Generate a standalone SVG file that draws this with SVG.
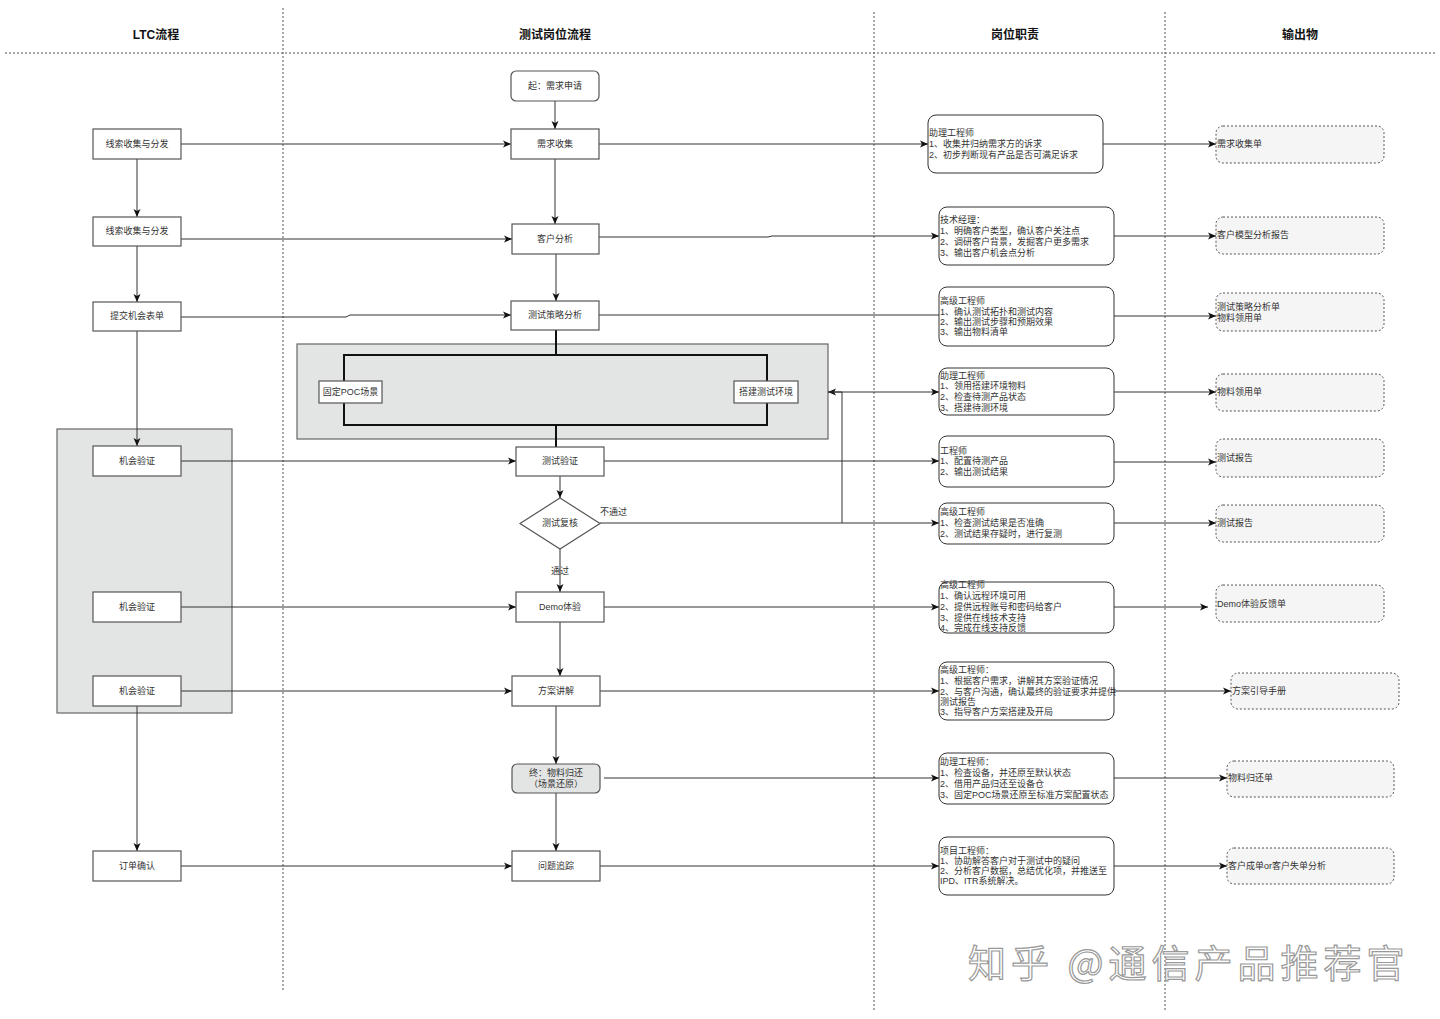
<svg xmlns="http://www.w3.org/2000/svg" width="1440" height="1019" viewBox="0 0 1440 1019">
<style>
text{font-family:"Liberation Sans","Noto Sans CJK SC",sans-serif;fill:#333;}
.hd{font-size:12px;font-weight:bold;fill:#111;text-anchor:middle;}
.nt{font-size:9px;text-anchor:middle;dominant-baseline:central;}
.rt{font-size:9px;}
.ot{font-size:9px;dominant-baseline:central;}
.box{fill:#fff;stroke:#555;stroke-width:1.2;}
.role{fill:#fff;stroke:#333;stroke-width:1;}
.out{fill:#f5f5f5;stroke:#555;stroke-width:1;stroke-dasharray:2 2;}
.grp{fill:#e3e4e4;stroke:#666;stroke-width:1.2;}
.sep{stroke:#555;stroke-width:1;stroke-dasharray:2 2;fill:none;}
.c{fill:none;stroke:#333;stroke-width:1;marker-end:url(#arr);}
.cn{fill:none;stroke:#333;stroke-width:1;}
.thick{fill:none;stroke:#111;stroke-width:2;}
</style>
<defs>
<marker id="arr" markerWidth="8" markerHeight="8" refX="8" refY="4" orient="auto" markerUnits="userSpaceOnUse">
<path d="M0,0.5 L8,4 L0,7.5 L2,4 z" fill="#111"/>
</marker>
</defs>
<rect width="1440" height="1019" fill="#fff"/>

<g id="lanes">
<line class="sep" x1="283" y1="8" x2="283" y2="990"/>
<line class="sep" x1="874" y1="12" x2="874" y2="1012"/>
<line class="sep" x1="1165" y1="12" x2="1165" y2="1012"/>
<line class="sep" x1="5" y1="53" x2="1435" y2="53"/>
<text class="hd" x="156" y="39">LTC流程</text>
<text class="hd" x="555" y="39">测试岗位流程</text>
<text class="hd" x="1015" y="39">岗位职责</text>
<text class="hd" x="1300" y="39">输出物</text>
</g>

<g id="containers">
<rect id="ltc-group" class="grp" x="57" y="429" width="175" height="284"/>
<rect id="env-group" class="grp" x="297" y="344" width="531" height="95"/>
<rect id="env-loop" class="thick" x="344" y="355" width="423" height="70"/>
</g>

<g id="connectors">
<path class="c" d="M137,159 V217"/>
<path class="c" d="M137,246 V302"/>
<path class="c" d="M137,331 V446"/>
<path class="c" d="M137,706 V851"/>
<path class="c" d="M181,144 H511"/>
<path class="c" d="M181,239 H512"/>
<path class="c" d="M181,317 H346 L350,315 H511"/>
<path class="c" d="M181,461 H516"/>
<path class="c" d="M181,607 H516"/>
<path class="c" d="M181,691 H512"/>
<path class="c" d="M181,866 H512"/>
<path class="c" d="M555,101 V129"/>
<path class="c" d="M555,159 V224"/>
<path class="c" d="M556,254 V301"/>
<path class="thick" d="M556,330 V355"/>
<path class="thick" d="M556,425 V447"/>
<path class="c" d="M560,476 V498"/>
<path class="c" d="M560,549 V592"/>
<path class="c" d="M560,622 V676"/>
<path class="c" d="M556,706 V764"/>
<path class="c" d="M556,793 V851"/>
<path class="c" d="M600,523 H939"/>
<path class="c" d="M842,523 V392 H828"/>
<path class="c" d="M828,392 H939"/>
<path class="c" d="M599,144 H928"/>
<path class="c" d="M599,237 H768 L772,236 H939"/>
<path class="c" d="M599,315 H940 L939,316"/>
<path class="c" d="M604,461 H939"/>
<path class="c" d="M604,607 H939"/>
<path class="c" d="M600,691 H939"/>
<path class="c" d="M604,778 H939"/>
<path class="c" d="M600,866 H939"/>
<path class="c" d="M1103,144 H1216"/>
<path class="c" d="M1114,236 H1216"/>
<path class="c" d="M1114,316 H1216"/>
<path class="c" d="M1114,392 H1216"/>
<path class="c" d="M1114,462 H1216"/>
<path class="c" d="M1114,523 H1216"/>
<path class="c" d="M1114,607 H1208"/>
<path class="c" d="M1114,691 H1231"/>
<path class="c" d="M1114,778 H1227"/>
<path class="c" d="M1114,866 H1227"/>
<text class="rt" x="600" y="515">不通过</text>
<text class="nt" x="560" y="571">通过</text>
</g>

<g id="ltc1"><rect class="box" x="93" y="129" width="88" height="30"/><text class="nt" x="137" y="144">线索收集与分发</text></g>
<g id="ltc2"><rect class="box" x="93" y="217" width="88" height="29"/><text class="nt" x="137" y="231">线索收集与分发</text></g>
<g id="ltc3"><rect class="box" x="93" y="302" width="88" height="29"/><text class="nt" x="137" y="316">提交机会表单</text></g>
<g id="ltc4"><rect class="box" x="93" y="446" width="88" height="30"/><text class="nt" x="137" y="461">机会验证</text></g>
<g id="ltc5"><rect class="box" x="93" y="592" width="88" height="30"/><text class="nt" x="137" y="607">机会验证</text></g>
<g id="ltc6"><rect class="box" x="93" y="676" width="88" height="30"/><text class="nt" x="137" y="691">机会验证</text></g>
<g id="ltc7"><rect class="box" x="93" y="851" width="88" height="30"/><text class="nt" x="137" y="866">订单确认</text></g>

<g id="start"><rect class="box" x="511" y="71" width="88" height="30" rx="5"/><text class="nt" x="555" y="86">起：需求申请</text></g>
<g id="t1"><rect class="box" x="511" y="129" width="88" height="30"/><text class="nt" x="555" y="144">需求收集</text></g>
<g id="t2"><rect class="box" x="512" y="224" width="87" height="30"/><text class="nt" x="555" y="239">客户分析</text></g>
<g id="t3"><rect class="box" x="511" y="301" width="88" height="29"/><text class="nt" x="555" y="315">测试策略分析</text></g>
<g id="poc"><rect class="box" x="319" y="381" width="63" height="22"/><text class="nt" x="350.5" y="392">固定POC场景</text></g>
<g id="env"><rect class="box" x="734" y="381" width="64" height="22"/><text class="nt" x="766" y="392">搭建测试环境</text></g>
<g id="t4"><rect class="box" x="516" y="447" width="88" height="29"/><text class="nt" x="560" y="461">测试验证</text></g>
<g id="t5"><polygon class="box" points="560,498 600,523.5 560,549 520,523.5"/><text class="nt" x="560" y="523">测试复核</text></g>
<g id="t6"><rect class="box" x="516" y="592" width="88" height="30"/><text class="nt" x="560" y="607">Demo体验</text></g>
<g id="t7"><rect class="box" x="512" y="676" width="88" height="30"/><text class="nt" x="556" y="691">方案讲解</text></g>
<g id="t8"><rect class="box" x="512" y="764" width="88" height="29" rx="5" style="fill:#e3e4e4"/><text class="nt" x="556" y="773">终：物料归还</text><text class="nt" x="556" y="784">（场景还原）</text></g>
<g id="t9"><rect class="box" x="512" y="851" width="88" height="30"/><text class="nt" x="556" y="866">问题追踪</text></g>

<g id="r1"><rect class="role" x="928" y="115" width="175" height="58" rx="8"/>
<text class="rt" x="929" y="136">助理工程师</text><text class="rt" x="929" y="147">1、收集并归纳需求方的诉求</text><text class="rt" x="929" y="158">2、初步判断现有产品是否可满足诉求</text></g>
<g id="r2"><rect class="role" x="939" y="207" width="175" height="58" rx="8"/>
<text class="rt" x="940" y="223">技术经理：</text><text class="rt" x="940" y="234">1、明确客户类型，确认客户关注点</text><text class="rt" x="940" y="245">2、调研客户背景，发掘客户更多需求</text><text class="rt" x="940" y="256">3、输出客户机会点分析</text></g>
<g id="r3"><rect class="role" x="939" y="287" width="175" height="59" rx="8"/>
<text class="rt" x="940" y="304">高级工程师</text><text class="rt" x="940" y="315">1、确认测试拓扑和测试内容</text><text class="rt" x="940" y="325">2、输出测试步骤和预期效果</text><text class="rt" x="940" y="335">3、输出物料清单</text></g>
<g id="r4"><rect class="role" x="939" y="368" width="175" height="47" rx="8"/>
<text class="rt" x="940" y="379">助理工程师</text><text class="rt" x="940" y="389">1、领用搭建环境物料</text><text class="rt" x="940" y="400">2、检查待测产品状态</text><text class="rt" x="940" y="411">3、搭建待测环境</text></g>
<g id="r5"><rect class="role" x="939" y="436" width="175" height="51" rx="8"/>
<text class="rt" x="940" y="454">工程师</text><text class="rt" x="940" y="464">1、配置待测产品</text><text class="rt" x="940" y="475">2、输出测试结果</text></g>
<g id="r6"><rect class="role" x="939" y="503" width="175" height="41" rx="8"/>
<text class="rt" x="940" y="515">高级工程师</text><text class="rt" x="940" y="526">1、检查测试结果是否准确</text><text class="rt" x="940" y="537">2、测试结果存疑时，进行复测</text></g>
<g id="r7"><rect class="role" x="939" y="582" width="175" height="51" rx="8"/>
<text class="rt" x="940" y="588">高级工程师</text><text class="rt" x="940" y="599">1、确认远程环境可用</text><text class="rt" x="940" y="610">2、提供远程账号和密码给客户</text><text class="rt" x="940" y="621">3、提供在线技术支持</text><text class="rt" x="940" y="631">4、完成在线支持反馈</text></g>
<g id="r8"><rect class="role" x="939" y="662" width="175" height="58" rx="8"/>
<text class="rt" x="940" y="673">高级工程师：</text><text class="rt" x="940" y="684">1、根据客户需求，讲解其方案验证情况</text><text class="rt" x="940" y="695">2、与客户沟通，确认最终的验证要求并提供</text><text class="rt" x="940" y="705">测试报告</text><text class="rt" x="940" y="715">3、指导客户方案搭建及开局</text></g>
<g id="r9"><rect class="role" x="939" y="753" width="175" height="51" rx="8"/>
<text class="rt" x="940" y="765">助理工程师：</text><text class="rt" x="940" y="776">1、检查设备，并还原至默认状态</text><text class="rt" x="940" y="787">2、借用产品归还至设备仓</text><text class="rt" x="940" y="798">3、固定POC场景还原至标准方案配置状态</text></g>
<g id="r10"><rect class="role" x="939" y="837" width="175" height="58" rx="8"/>
<text class="rt" x="940" y="854">项目工程师：</text><text class="rt" x="940" y="864">1、协助解答客户对于测试中的疑问</text><text class="rt" x="940" y="874">2、分析客户数据，总结优化项，并推送至</text><text class="rt" x="940" y="884">IPD、ITR系统解决。</text></g>

<g id="o1"><rect class="out" x="1216" y="126" width="168" height="37" rx="7"/><text class="ot" x="1217" y="144">需求收集单</text></g>
<g id="o2"><rect class="out" x="1216" y="217" width="168" height="37" rx="7"/><text class="ot" x="1217" y="235">客户模型分析报告</text></g>
<g id="o3"><rect class="out" x="1216" y="293" width="168" height="38" rx="7"/><text class="ot" x="1217" y="307">测试策略分析单</text><text class="ot" x="1217" y="318">物料领用单</text></g>
<g id="o4"><rect class="out" x="1216" y="374" width="168" height="37" rx="7"/><text class="ot" x="1217" y="392">物料领用单</text></g>
<g id="o5"><rect class="out" x="1216" y="439" width="168" height="38" rx="7"/><text class="ot" x="1217" y="458">测试报告</text></g>
<g id="o6"><rect class="out" x="1216" y="505" width="168" height="37" rx="7"/><text class="ot" x="1217" y="523">测试报告</text></g>
<g id="o7"><rect class="out" x="1216" y="585" width="168" height="37" rx="7"/><text class="ot" x="1217" y="604">Demo体验反馈单</text></g>
<g id="o8"><rect class="out" x="1231" y="673" width="168" height="36" rx="7"/><text class="ot" x="1232" y="691">方案引导手册</text></g>
<g id="o9"><rect class="out" x="1227" y="761" width="167" height="36" rx="7"/><text class="ot" x="1228" y="778">物料归还单</text></g>
<g id="o10"><rect class="out" x="1227" y="848" width="167" height="36" rx="7"/><text class="ot" x="1228" y="866">客户成单or客户失单分析</text></g>

<text x="968" y="977" style="font-family:'Noto Sans CJK SC',sans-serif;font-size:38px;fill:#fff;stroke:#999;stroke-width:1.2;letter-spacing:5px">知乎 @通信产品推荐官</text>
</svg>
